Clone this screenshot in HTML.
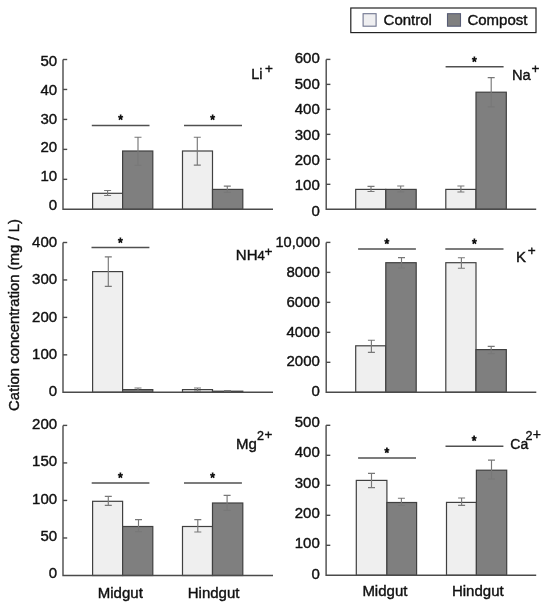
<!DOCTYPE html>
<html><head><meta charset="utf-8"><title>Cation concentration</title>
<style>html,body{margin:0;padding:0;background:#fff;}body{width:550px;height:602px;overflow:hidden;}svg{display:block;}text{font-family:'Liberation Sans', Arial, Helvetica, sans-serif;fill:#111;stroke:#111;stroke-width:0.4px;}</style>
</head><body>
<svg width="550" height="602" viewBox="0 0 550 602">
<rect x="350.8" y="8.0" width="185.2" height="24.6" fill="#fff" stroke="#222" stroke-width="1.2"/>
<rect x="363.1" y="13.7" width="13" height="12.5" fill="#efeff1" stroke="#70758f" stroke-width="1.1"/>
<text x="383.6" y="25.4" font-size="15">Control</text>
<rect x="447.5" y="13.7" width="13" height="12.5" fill="#808080" stroke="#575c75" stroke-width="1.1"/>
<text x="467.4" y="25.4" font-size="15">Compost</text>
<text transform="translate(19.4 411) rotate(-90)" font-size="14.9">Cation concentration (mg / L)</text>
<line x1="63.00" y1="59.50" x2="67.20" y2="59.50" stroke="#4a4a4a" stroke-width="1.40"/>
<line x1="63.00" y1="89.46" x2="67.20" y2="89.46" stroke="#4a4a4a" stroke-width="1.40"/>
<line x1="63.00" y1="119.42" x2="67.20" y2="119.42" stroke="#4a4a4a" stroke-width="1.40"/>
<line x1="63.00" y1="149.38" x2="67.20" y2="149.38" stroke="#4a4a4a" stroke-width="1.40"/>
<line x1="63.00" y1="179.34" x2="67.20" y2="179.34" stroke="#4a4a4a" stroke-width="1.40"/>
<text x="57.10" y="66.10" font-size="15" text-anchor="end">50</text>
<text x="57.10" y="94.80" font-size="15" text-anchor="end">40</text>
<text x="57.10" y="123.50" font-size="15" text-anchor="end">30</text>
<text x="57.10" y="152.20" font-size="15" text-anchor="end">20</text>
<text x="57.10" y="180.90" font-size="15" text-anchor="end">10</text>
<text x="57.10" y="209.60" font-size="15" text-anchor="end">0</text>
<rect x="92.60" y="193.30" width="30.00" height="16.00" fill="#efefef" stroke="#404040" stroke-width="1.20"/>
<rect x="122.60" y="151.00" width="30.20" height="58.30" fill="#7f7f7f" stroke="#404040" stroke-width="1.20"/>
<rect x="182.50" y="151.00" width="30.00" height="58.30" fill="#efefef" stroke="#404040" stroke-width="1.20"/>
<rect x="212.50" y="189.40" width="30.30" height="19.90" fill="#7f7f7f" stroke="#404040" stroke-width="1.20"/>
<path d="M107.60 190.50V195.50M104.10 190.50H111.10M104.10 195.50H111.10" fill="none" stroke="#787878" stroke-width="1.15"/>
<path d="M138.00 137.20V165.20M134.50 137.20H141.50M134.50 165.20H141.50" fill="none" stroke="#787878" stroke-width="1.15"/>
<path d="M197.30 137.20V165.10M193.80 137.20H200.80M193.80 165.10H200.80" fill="none" stroke="#787878" stroke-width="1.15"/>
<path d="M227.30 186.10V192.40M223.80 186.10H230.80M223.80 192.40H230.80" fill="none" stroke="#787878" stroke-width="1.15"/>
<path d="M63.00 59.50V209.30H273.00" fill="none" stroke="#4a4a4a" stroke-width="1.40"/>
<line x1="91.80" y1="125.40" x2="149.50" y2="125.40" stroke="#505050" stroke-width="1.50"/>
<text x="120.50" y="123.50" font-size="12.2" text-anchor="middle" style="stroke-width:0.85px">*</text>
<line x1="184.00" y1="125.40" x2="242.00" y2="125.40" stroke="#505050" stroke-width="1.50"/>
<text x="212.50" y="123.50" font-size="12.2" text-anchor="middle" style="stroke-width:0.85px">*</text>
<line x1="326.20" y1="59.40" x2="330.40" y2="59.40" stroke="#4a4a4a" stroke-width="1.40"/>
<line x1="326.20" y1="84.38" x2="330.40" y2="84.38" stroke="#4a4a4a" stroke-width="1.40"/>
<line x1="326.20" y1="109.37" x2="330.40" y2="109.37" stroke="#4a4a4a" stroke-width="1.40"/>
<line x1="326.20" y1="134.35" x2="330.40" y2="134.35" stroke="#4a4a4a" stroke-width="1.40"/>
<line x1="326.20" y1="159.33" x2="330.40" y2="159.33" stroke="#4a4a4a" stroke-width="1.40"/>
<line x1="326.20" y1="184.32" x2="330.40" y2="184.32" stroke="#4a4a4a" stroke-width="1.40"/>
<text x="319.80" y="63.30" font-size="15" text-anchor="end">600</text>
<text x="319.80" y="88.70" font-size="15" text-anchor="end">500</text>
<text x="319.80" y="114.10" font-size="15" text-anchor="end">400</text>
<text x="319.80" y="139.50" font-size="15" text-anchor="end">300</text>
<text x="319.80" y="164.90" font-size="15" text-anchor="end">200</text>
<text x="319.80" y="190.30" font-size="15" text-anchor="end">100</text>
<text x="319.80" y="215.70" font-size="15" text-anchor="end">0</text>
<rect x="355.70" y="189.40" width="30.10" height="19.90" fill="#efefef" stroke="#404040" stroke-width="1.20"/>
<rect x="385.80" y="189.40" width="30.40" height="19.90" fill="#7f7f7f" stroke="#404040" stroke-width="1.20"/>
<rect x="445.80" y="189.40" width="30.20" height="19.90" fill="#efefef" stroke="#404040" stroke-width="1.20"/>
<rect x="476.00" y="92.20" width="30.30" height="117.10" fill="#7f7f7f" stroke="#404040" stroke-width="1.20"/>
<path d="M371.00 186.30V191.50M367.50 186.30H374.50M367.50 191.50H374.50" fill="none" stroke="#787878" stroke-width="1.15"/>
<path d="M400.70 186.00V191.80M397.20 186.00H404.20M397.20 191.80H404.20" fill="none" stroke="#787878" stroke-width="1.15"/>
<path d="M460.90 186.00V192.00M457.40 186.00H464.40M457.40 192.00H464.40" fill="none" stroke="#787878" stroke-width="1.15"/>
<path d="M491.20 77.60V106.80M487.70 77.60H494.70M487.70 106.80H494.70" fill="none" stroke="#787878" stroke-width="1.15"/>
<path d="M326.20 59.40V209.30H536.20" fill="none" stroke="#4a4a4a" stroke-width="1.40"/>
<line x1="445.60" y1="66.80" x2="503.60" y2="66.80" stroke="#505050" stroke-width="1.50"/>
<text x="474.40" y="65.90" font-size="12.2" text-anchor="middle" style="stroke-width:0.85px">*</text>
<line x1="63.00" y1="242.50" x2="67.20" y2="242.50" stroke="#4a4a4a" stroke-width="1.40"/>
<line x1="63.00" y1="279.95" x2="67.20" y2="279.95" stroke="#4a4a4a" stroke-width="1.40"/>
<line x1="63.00" y1="317.40" x2="67.20" y2="317.40" stroke="#4a4a4a" stroke-width="1.40"/>
<line x1="63.00" y1="354.85" x2="67.20" y2="354.85" stroke="#4a4a4a" stroke-width="1.40"/>
<text x="57.10" y="247.10" font-size="15" text-anchor="end">400</text>
<text x="57.10" y="284.35" font-size="15" text-anchor="end">300</text>
<text x="57.10" y="321.60" font-size="15" text-anchor="end">200</text>
<text x="57.10" y="358.85" font-size="15" text-anchor="end">100</text>
<text x="57.10" y="396.10" font-size="15" text-anchor="end">0</text>
<rect x="92.60" y="271.60" width="30.00" height="120.70" fill="#efefef" stroke="#404040" stroke-width="1.20"/>
<rect x="122.60" y="389.60" width="30.20" height="2.70" fill="#7f7f7f" stroke="#404040" stroke-width="1.20"/>
<rect x="182.50" y="389.60" width="30.00" height="2.70" fill="#efefef" stroke="#404040" stroke-width="1.20"/>
<rect x="212.50" y="391.20" width="30.30" height="1.10" fill="#7f7f7f" stroke="#404040" stroke-width="1.20"/>
<path d="M108.30 256.90V286.40M104.80 256.90H111.80M104.80 286.40H111.80" fill="none" stroke="#787878" stroke-width="1.15"/>
<path d="M138.00 388.00V391.00M134.50 388.00H141.50M134.50 391.00H141.50" fill="none" stroke="#787878" stroke-width="1.15"/>
<path d="M197.50 388.00V391.00M194.00 388.00H201.00M194.00 391.00H201.00" fill="none" stroke="#787878" stroke-width="1.15"/>
<path d="M227.50 390.50V391.50M224.00 390.50H231.00M224.00 391.50H231.00" fill="none" stroke="#787878" stroke-width="1.15"/>
<path d="M63.00 242.50V392.30H273.00" fill="none" stroke="#4a4a4a" stroke-width="1.40"/>
<line x1="91.50" y1="247.50" x2="149.40" y2="247.50" stroke="#505050" stroke-width="1.50"/>
<text x="120.30" y="246.60" font-size="12.2" text-anchor="middle" style="stroke-width:0.85px">*</text>
<line x1="326.20" y1="242.40" x2="330.40" y2="242.40" stroke="#4a4a4a" stroke-width="1.40"/>
<line x1="326.20" y1="272.38" x2="330.40" y2="272.38" stroke="#4a4a4a" stroke-width="1.40"/>
<line x1="326.20" y1="302.36" x2="330.40" y2="302.36" stroke="#4a4a4a" stroke-width="1.40"/>
<line x1="326.20" y1="332.34" x2="330.40" y2="332.34" stroke="#4a4a4a" stroke-width="1.40"/>
<line x1="326.20" y1="362.32" x2="330.40" y2="362.32" stroke="#4a4a4a" stroke-width="1.40"/>
<text x="320.10" y="247.20" font-size="15" text-anchor="end" textLength="44.6" lengthAdjust="spacingAndGlyphs">10,000</text>
<text x="319.90" y="277.00" font-size="15" text-anchor="end">8000</text>
<text x="319.90" y="306.80" font-size="15" text-anchor="end">6000</text>
<text x="319.90" y="336.60" font-size="15" text-anchor="end">4000</text>
<text x="319.90" y="366.40" font-size="15" text-anchor="end">2000</text>
<text x="319.90" y="396.20" font-size="15" text-anchor="end">0</text>
<rect x="355.70" y="345.80" width="30.10" height="46.50" fill="#efefef" stroke="#404040" stroke-width="1.20"/>
<rect x="385.80" y="262.70" width="30.40" height="129.60" fill="#7f7f7f" stroke="#404040" stroke-width="1.20"/>
<rect x="445.80" y="262.70" width="30.20" height="129.60" fill="#efefef" stroke="#404040" stroke-width="1.20"/>
<rect x="476.00" y="349.60" width="30.30" height="42.70" fill="#7f7f7f" stroke="#404040" stroke-width="1.20"/>
<path d="M371.40 340.20V352.40M367.90 340.20H374.90M367.90 352.40H374.90" fill="none" stroke="#787878" stroke-width="1.15"/>
<path d="M401.50 257.60V268.00M398.00 257.60H405.00M398.00 268.00H405.00" fill="none" stroke="#787878" stroke-width="1.15"/>
<path d="M461.40 257.70V268.20M457.90 257.70H464.90M457.90 268.20H464.90" fill="none" stroke="#787878" stroke-width="1.15"/>
<path d="M491.20 346.40V353.60M487.70 346.40H494.70M487.70 353.60H494.70" fill="none" stroke="#787878" stroke-width="1.15"/>
<path d="M326.20 242.40V392.30H536.30" fill="none" stroke="#4a4a4a" stroke-width="1.40"/>
<line x1="358.10" y1="249.00" x2="415.90" y2="249.00" stroke="#505050" stroke-width="1.50"/>
<text x="386.80" y="248.20" font-size="12.2" text-anchor="middle" style="stroke-width:0.85px">*</text>
<line x1="445.30" y1="249.10" x2="503.50" y2="249.10" stroke="#505050" stroke-width="1.50"/>
<text x="474.30" y="248.20" font-size="12.2" text-anchor="middle" style="stroke-width:0.85px">*</text>
<line x1="63.00" y1="425.40" x2="67.20" y2="425.40" stroke="#4a4a4a" stroke-width="1.40"/>
<line x1="63.00" y1="462.92" x2="67.20" y2="462.92" stroke="#4a4a4a" stroke-width="1.40"/>
<line x1="63.00" y1="500.45" x2="67.20" y2="500.45" stroke="#4a4a4a" stroke-width="1.40"/>
<line x1="63.00" y1="537.98" x2="67.20" y2="537.98" stroke="#4a4a4a" stroke-width="1.40"/>
<text x="57.10" y="428.90" font-size="15" text-anchor="end">200</text>
<text x="57.10" y="466.20" font-size="15" text-anchor="end">150</text>
<text x="57.10" y="503.50" font-size="15" text-anchor="end">100</text>
<text x="57.10" y="540.80" font-size="15" text-anchor="end">50</text>
<text x="57.10" y="578.10" font-size="15" text-anchor="end">0</text>
<rect x="92.60" y="501.30" width="30.00" height="74.20" fill="#efefef" stroke="#404040" stroke-width="1.20"/>
<rect x="122.60" y="526.50" width="30.20" height="49.00" fill="#7f7f7f" stroke="#404040" stroke-width="1.20"/>
<rect x="182.50" y="526.50" width="30.00" height="49.00" fill="#efefef" stroke="#404040" stroke-width="1.20"/>
<rect x="212.50" y="503.00" width="30.30" height="72.50" fill="#7f7f7f" stroke="#404040" stroke-width="1.20"/>
<path d="M108.30 496.40V505.40M104.80 496.40H111.80M104.80 505.40H111.80" fill="none" stroke="#787878" stroke-width="1.15"/>
<path d="M138.50 519.60V531.60M135.00 519.60H142.00M135.00 531.60H142.00" fill="none" stroke="#787878" stroke-width="1.15"/>
<path d="M197.80 519.60V532.00M194.30 519.60H201.30M194.30 532.00H201.30" fill="none" stroke="#787878" stroke-width="1.15"/>
<path d="M227.10 495.30V510.30M223.60 495.30H230.60M223.60 510.30H230.60" fill="none" stroke="#787878" stroke-width="1.15"/>
<path d="M63.00 425.40V575.50H273.00" fill="none" stroke="#4a4a4a" stroke-width="1.40"/>
<line x1="91.70" y1="483.00" x2="149.40" y2="483.00" stroke="#505050" stroke-width="1.50"/>
<text x="120.30" y="481.90" font-size="12.2" text-anchor="middle" style="stroke-width:0.85px">*</text>
<line x1="184.00" y1="483.00" x2="241.90" y2="483.00" stroke="#505050" stroke-width="1.50"/>
<text x="212.50" y="481.90" font-size="12.2" text-anchor="middle" style="stroke-width:0.85px">*</text>
<line x1="326.10" y1="425.30" x2="330.30" y2="425.30" stroke="#4a4a4a" stroke-width="1.40"/>
<line x1="326.10" y1="455.30" x2="330.30" y2="455.30" stroke="#4a4a4a" stroke-width="1.40"/>
<line x1="326.10" y1="485.30" x2="330.30" y2="485.30" stroke="#4a4a4a" stroke-width="1.40"/>
<line x1="326.10" y1="515.30" x2="330.30" y2="515.30" stroke="#4a4a4a" stroke-width="1.40"/>
<line x1="326.10" y1="545.30" x2="330.30" y2="545.30" stroke="#4a4a4a" stroke-width="1.40"/>
<text x="319.80" y="426.60" font-size="15" text-anchor="end">500</text>
<text x="319.80" y="457.06" font-size="15" text-anchor="end">400</text>
<text x="319.80" y="487.52" font-size="15" text-anchor="end">300</text>
<text x="319.80" y="517.98" font-size="15" text-anchor="end">200</text>
<text x="319.80" y="548.44" font-size="15" text-anchor="end">100</text>
<text x="319.80" y="578.90" font-size="15" text-anchor="end">0</text>
<rect x="356.30" y="480.40" width="30.60" height="94.90" fill="#efefef" stroke="#404040" stroke-width="1.20"/>
<rect x="386.90" y="502.50" width="29.70" height="72.80" fill="#7f7f7f" stroke="#404040" stroke-width="1.20"/>
<rect x="446.50" y="502.40" width="29.90" height="72.90" fill="#efefef" stroke="#404040" stroke-width="1.20"/>
<rect x="476.40" y="470.20" width="30.30" height="105.10" fill="#7f7f7f" stroke="#404040" stroke-width="1.20"/>
<path d="M371.50 473.30V487.60M368.00 473.30H375.00M368.00 487.60H375.00" fill="none" stroke="#787878" stroke-width="1.15"/>
<path d="M401.40 498.20V505.50M397.90 498.20H404.90M397.90 505.50H404.90" fill="none" stroke="#787878" stroke-width="1.15"/>
<path d="M461.60 498.00V505.30M458.10 498.00H465.10M458.10 505.30H465.10" fill="none" stroke="#787878" stroke-width="1.15"/>
<path d="M491.50 460.10V479.00M488.00 460.10H495.00M488.00 479.00H495.00" fill="none" stroke="#787878" stroke-width="1.15"/>
<path d="M326.10 425.30V575.30H536.20" fill="none" stroke="#4a4a4a" stroke-width="1.40"/>
<line x1="358.10" y1="458.00" x2="416.00" y2="458.00" stroke="#505050" stroke-width="1.50"/>
<text x="386.90" y="456.80" font-size="12.2" text-anchor="middle" style="stroke-width:0.85px">*</text>
<line x1="445.50" y1="446.30" x2="503.40" y2="446.30" stroke="#505050" stroke-width="1.50"/>
<text x="474.10" y="445.30" font-size="12.2" text-anchor="middle" style="stroke-width:0.85px">*</text>
<text x="251.2" y="79.3" font-size="14.5">Li<tspan dx="2.4" dy="-6.6" font-size="13.5">+</tspan></text>
<text x="512.0" y="79.8" font-size="14.7">Na<tspan dx="0.6" dy="-7" font-size="13.5">+</tspan></text>
<text x="235.8" y="259.6" font-size="15">NH<tspan font-size="13">4</tspan><tspan dx="-0.2" dy="-3.6" font-size="13.6">+</tspan></text>
<text x="516.1" y="261.6" font-size="15">K<tspan dx="1.6" dy="-6.6" font-size="13.6">+</tspan></text>
<text x="236.1" y="448.5" font-size="15">Mg<tspan dy="-9" font-size="12.5">2</tspan><tspan dx="0.5" dy="-0.3" font-size="13.4">+</tspan></text>
<text x="510.3" y="448.5" font-size="14">Ca<tspan dx="-2.6" dy="-9" font-size="12.5">2</tspan><tspan dx="0.3" dy="-0.6" font-size="14">+</tspan></text>
<text x="120.3" y="597.7" font-size="15" text-anchor="middle">Midgut</text>
<text x="213.6" y="597.6" font-size="15" text-anchor="middle">Hindgut</text>
<text x="384.9" y="596.3" font-size="15" text-anchor="middle">Midgut</text>
<text x="477.8" y="596.3" font-size="15" text-anchor="middle">Hindgut</text>
</svg>
</body></html>
